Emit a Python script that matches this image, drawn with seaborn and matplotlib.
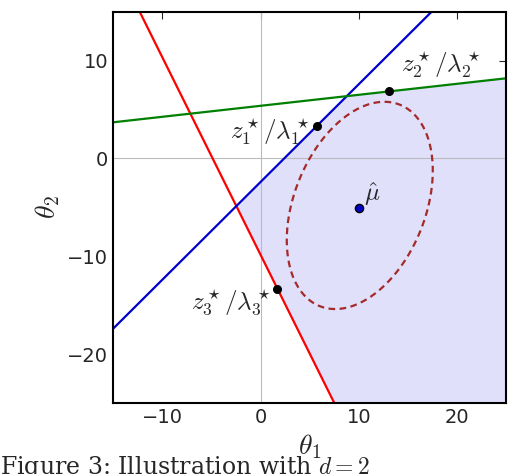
import numpy as np
import matplotlib
matplotlib.use("Agg")
import matplotlib.pyplot as plt
import seaborn as sns

sns.set_style("white")
plt.rcParams['font.family'] = ['DejaVu Sans']
plt.rcParams['mathtext.fontset'] = 'cm'

# line definitions: (slope, intercept)
red_line = [-2.02, -9.85]
blue_line = [1.0, -2.4]
green_line = [0.1125, 5.39]
points_x = [5.7, 13.1, 1.7]
points_y = [3.3, 6.86, -13.3]
point_labels = [r"$z_1^\star/\lambda_1^\star$", r"$z_2^\star/\lambda_2^\star$", r"$z_3^\star/\lambda_3^\star$"]
label_x = [1.0, 18.4, -3.0]
label_y = [2.7, 9.6, -14.7]
mu = [10.0, -5.05]
ell_center = [10.1, -4.8]
ell_params = [7.0, 2.5, 10.6]

fig = plt.figure(figsize=(5.17, 4.74), dpi=100)
ax = fig.add_axes([0.219, 0.150, 0.760, 0.825])
xs = np.linspace(-15, 25, 800)
r = red_line[0]*xs + red_line[1]
b = blue_line[0]*xs + blue_line[1]
g = green_line[0]*xs + green_line[1]
lower = np.maximum(r, -25)
upper = np.minimum(g, b)
ax.fill_between(xs, lower, upper, where=upper > lower, color="#e0e0fb", lw=0)
ax.axhline(0, color="#bbbbbb", lw=0.8)
ax.axvline(0, color="#bbbbbb", lw=0.8)
sns.lineplot(x=xs, y=r, color="red", lw=1.6, ax=ax)
sns.lineplot(x=xs, y=b, color="#0000cc", lw=1.6, ax=ax)
sns.lineplot(x=xs, y=g, color="green", lw=1.6, ax=ax)

t = np.linspace(0, 2*np.pi, 300)
ex = ell_center[0] + ell_params[0]*np.cos(t) + ell_params[1]*np.sin(t)
ey = ell_center[1] + ell_params[2]*np.sin(t)
ax.plot(ex, ey, color="#a52a2a", lw=1.6, dashes=(3, 2))

ax.scatter(points_x, points_y, color="black", s=30, zorder=5)
ax.scatter([mu[0]], [mu[1]], color="#0000cc", edgecolor="black", s=35, zorder=5)
for lx, ly, lab in zip(label_x, label_y, point_labels):
    ax.text(lx, ly, lab, ha="center", va="center", fontsize=18)
ax.text(mu[0]+1.4, mu[1]+1.4, r"$\hat{\mu}$", ha="center", va="center", fontsize=18)

ax.set_xlim(-15, 25)
ax.set_ylim(-25, 15)
ax.set_xticks([-10, 0, 10, 20])
ax.set_yticks([-20, -10, 0, 10])
ax.tick_params(direction="in", top=True, right=True, labelsize=14, length=5)
ax.set_xlabel(r"$\theta_1$", fontsize=20)
ax.set_ylabel(r"$\theta_2$", fontsize=20)
for s in ax.spines.values():
    s.set_linewidth(1.5); s.set_color("black")
fig.text(0.0, -0.015, "Figure 3: Illustration with $d = 2$", fontsize=17, family="serif", va="bottom")
fig.savefig("out.png", dpi=100)
